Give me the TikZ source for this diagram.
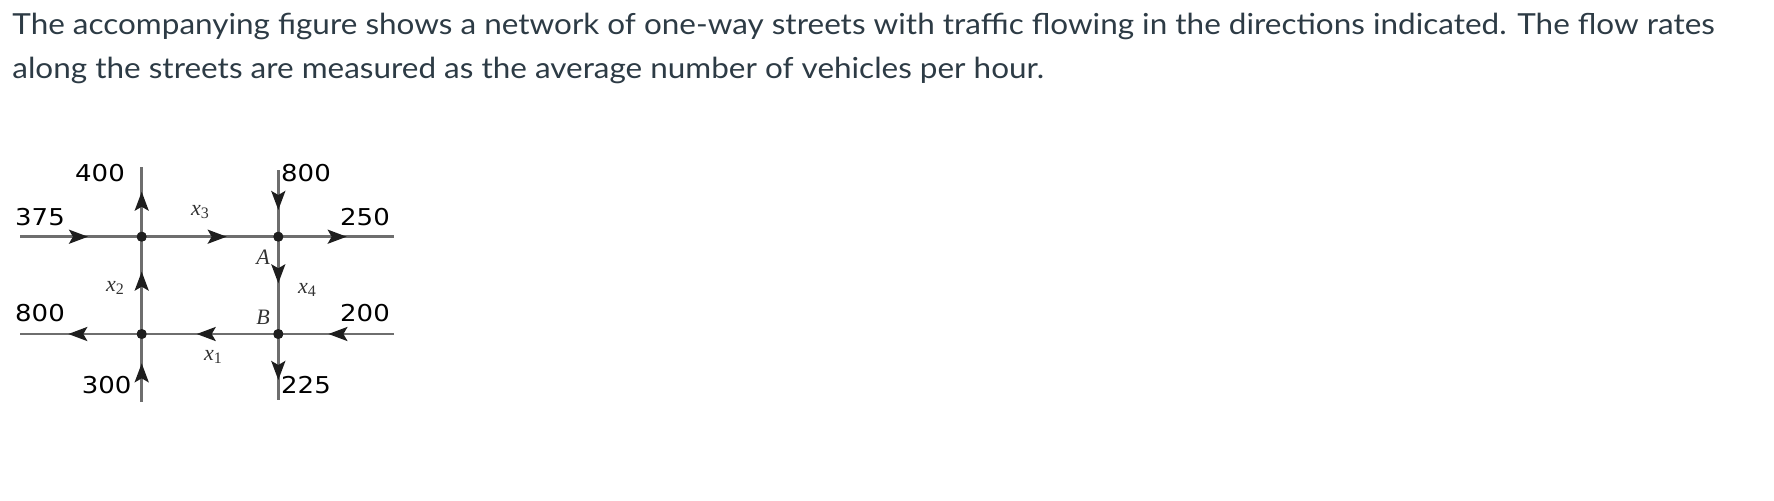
\documentclass[tikz,border=0pt]{standalone}
\usepackage{fontspec}
\setmainfont{Lato}
\newfontfamily\numfont{DejaVu Sans}
\newfontfamily\tmsfont{Liberation Serif}
\usetikzlibrary{arrows.meta,decorations.markings}
\definecolor{txtcol}{HTML}{2D3B45}
\definecolor{streetcol}{HTML}{6E6E6E}
\definecolor{headcol}{HTML}{1E1E1E}
\tikzset{
  street/.style={draw=streetcol, line width=1.3pt},
  dot/.style={circle, fill=headcol, inner sep=0pt, minimum size=5pt},
  arrowat/.style={postaction={decorate, decoration={markings,
      mark=at position #1 with {\arrow[headcol]{Stealth[length=9.5pt,width=7pt,inset=2pt]}}}}},
  num/.style={font=\numfont\fontsize{11.6pt}{13pt}\selectfont, text=black, inner sep=0pt, xscale=1.12},
  var/.style={font=\tmsfont\itshape\fontsize{11pt}{12pt}\selectfont, text=black!80, inner sep=0pt},
  qtext/.style={anchor=base west, inner sep=0pt, text=txtcol, font=\fontsize{14.5pt}{22pt}\selectfont, xscale=1.085},
}
\newcommand{\sbs}[1]{\raisebox{-0.35ex}{\upshape\fontsize{8pt}{9pt}\selectfont #1}}
\begin{document}
\begin{tikzpicture}[x=0.5pt,y=-0.5pt]
\useasboundingbox (0,0) rectangle (1774,500);
% question text
\node[qtext] (q1) at (12,34) {The accompanying figure shows a network of one-way streets with traffic flowing in the directions indicated. The flow rates};
\node[qtext] (q2) at (12,78) {along the streets are measured as the average number of vehicles per hour.};
% street ends
\coordinate (W1) at (20,236.7);
\coordinate (E1) at (394,236.7);
\coordinate (W2) at (20,334);
\coordinate (E2) at (394,334);
\coordinate (N1) at (141.7,166.7);
\coordinate (S1) at (141.7,401.7);
\coordinate (N2) at (278.3,170);
\coordinate (S2) at (278.3,400);
% intersections
\node[dot] (TL) at (141.7,236.7) {};
\node[dot] (TR) at (278.3,236.7) {};
\node[dot] (BL) at (141.7,334) {};
\node[dot] (BR) at (278.3,334) {};
% top street (eastbound)
\draw[street, arrowat=34pt] (W1) -- (TL.center);
\draw[street, arrowat=42.5pt] (TL.center) -- (TR.center);
\draw[street, arrowat=34.2pt] (TR.center) -- (E1);
% bottom street (westbound)
\draw[street, arrowat=32.8pt] (E2) -- (BR.center);
\draw[street, arrowat=40.8pt] (BR.center) -- (BL.center);
\draw[street, arrowat=36.7pt] (BL.center) -- (W2);
% left street (northbound)
\draw[street, arrowat=19.2pt] (S1) -- (BL.center);
\draw[street, arrowat=31.2pt] (BL.center) -- (TL.center);
\draw[street, arrowat=22.5pt] (TL.center) -- (N1);
% right street (southbound)
\draw[street, arrowat=20pt] (N2) -- (TR.center);
\draw[street, arrowat=23.3pt] (TR.center) -- (BR.center);
\draw[street, arrowat=23pt] (BR.center) -- (S2);
% redraw dots on top
\foreach \n in {TL,TR,BL,BR} \fill[headcol] (\n.center) circle (2.5pt);
% labels
\node[num] (l400) at (100,173) {400};
\node[num] (l800t) at (306,173) {800};
\node[num] (l375) at (40,217.5) {375};
\node[num] (l250) at (365,217.5) {250};
\node[num] (l800l) at (40,313) {800};
\node[num] (l200) at (365,313) {200};
\node[num] (l300) at (106.7,385) {300};
\node[num] (l225) at (306,385) {225};
\node[var] (lx3) at (200,212) {x\sbs{3}};
\node[var] (lx2) at (115,288) {x\sbs{2}};
\node[var] (lx4) at (307,290) {x\sbs{4}};
\node[var] (lx1) at (213,357) {x\sbs{1}};
\node[var] (lA) at (263,257) {A};
\node[var] (lB) at (263,317) {B};
\end{tikzpicture}
\end{document}
